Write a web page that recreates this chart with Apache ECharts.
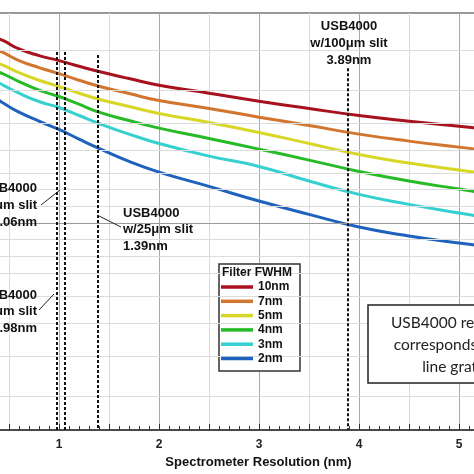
<!DOCTYPE html>
<html lang="en">
<head>
<meta charset="utf-8" />
<title>Filter FWHM vs spectrometer resolution</title>
<script src="https://cdn.jsdelivr.net/npm/echarts@6/dist/echarts.min.js"></script>
<style>
    html, body { margin: 0; padding: 0; background: #fff; overflow: hidden; width: 474px; height: 474px; }
    /* the plot is cropped on the left like the original figure */
    #main { position: absolute; left: -44px; top: 0; width: 560px; height: 474px; }
</style>
</head>
<body>
<div id="main"></div>
<script>
    // spectrometer resolution (nm)
    var resolution = [0.4, 0.45, 0.6, 0.8, 1.0, 1.2, 1.4, 1.7, 2.0, 2.5, 3.0, 3.5, 4.0, 4.5, 5.0, 5.5];

    // curves, one per filter FWHM (y in log units, 0 = heavy grid line)
    var fwhm10 = [0.553, 0.547, 0.523, 0.503, 0.488, 0.471, 0.455, 0.434, 0.414, 0.390, 0.366, 0.344, 0.323, 0.306, 0.291, 0.276];
    var fwhm7  = [0.517, 0.511, 0.488, 0.467, 0.449, 0.429, 0.411, 0.389, 0.368, 0.344, 0.318, 0.293, 0.267, 0.246, 0.228, 0.210];
    var fwhm5  = [0.479, 0.473, 0.452, 0.429, 0.410, 0.390, 0.372, 0.350, 0.329, 0.302, 0.272, 0.239, 0.206, 0.180, 0.159, 0.138];
    var fwhm4  = [0.453, 0.447, 0.425, 0.399, 0.380, 0.357, 0.333, 0.308, 0.285, 0.254, 0.222, 0.189, 0.155, 0.126, 0.102, 0.078];
    var fwhm3  = [0.420, 0.413, 0.390, 0.365, 0.347, 0.323, 0.299, 0.267, 0.239, 0.201, 0.170, 0.126, 0.086, 0.056, 0.030, 0.006];
    var fwhm2  = [0.369, 0.359, 0.333, 0.306, 0.281, 0.252, 0.224, 0.185, 0.153, 0.110, 0.066, 0.026, -0.012, -0.039, -0.060, -0.078];

    var names  = ['10nm', '7nm', '5nm', '4nm', '3nm', '2nm'];
    var curves = [fwhm10, fwhm7, fwhm5, fwhm4, fwhm3, fwhm2];
    var colors = ['#a8121e', '#d2752f', '#d8d626', '#27bb27', '#36d0d0', '#1f62bd'];

    // horizontal grid levels (mirrored around 0)
    var gridLevels = [0.046, 0.097, 0.155, 0.222, 0.301, 0.398, 0.523];

    // USB4000 slit resolutions: [x, top of dotted line]
    var slitLines = [[0.98, 0.514], [1.06, 0.514], [1.39, 0.505], [3.89, 0.465]];

    var yMin = -0.622, yMax = 0.631;

    var series = [];
    for (var i = 0; i < curves.length; i++) {
        var pts = [];
        for (var k = 0; k < resolution.length; k++) {
            pts.push([resolution[k], curves[i][k]]);
        }
        series.push({
            name: names[i],
            type: 'line',
            smooth: true,
            symbol: 'none',
            z: 4,
            lineStyle: { width: 3, color: colors[i] },
            itemStyle: { color: colors[i] },
            data: pts
        });
    }

    var gridMarks = [{ yAxis: 0, lineStyle: { color: '#9a9a9a', width: 1.2 } }];
    for (var g = 0; g < gridLevels.length; g++) {
        gridMarks.push({ yAxis: gridLevels[g] });
        gridMarks.push({ yAxis: -gridLevels[g] });
    }

    var slitMarks = [];
    for (var s = 0; s < slitLines.length; s++) {
        slitMarks.push([
            { coord: [slitLines[s][0], slitLines[s][1]] },
            { coord: [slitLines[s][0], yMin] }
        ]);
    }

    series.unshift({
        name: 'grid',
        type: 'line',
        data: [],
        z: 1,
        markLine: {
            silent: true,
            animation: false,
            symbol: 'none',
            label: { show: false },
            lineStyle: { type: 'solid', color: '#dcdcdc', width: 1 },
            data: gridMarks
        }
    });
    series.push({
        name: 'slits',
        type: 'line',
        data: [],
        z: 5,
        markLine: {
            silent: true,
            animation: false,
            symbol: 'none',
            label: { show: false },
            lineStyle: { type: [3, 2], color: '#111', width: 2 },
            data: slitMarks
        }
    });

    var arial = '"Liberation Sans", Arial, sans-serif';
    var bold13 = 'bold 13px ' + arial;
    var dx = 44; // div is shifted 44px to the left

    var myChart = echarts.init(document.getElementById('main'));

    var option = {
        animation: false,
        legend: {
            data: names,
            orient: 'vertical',
            left: 221 + dx,
            top: 281,
            icon: 'rect',
            itemWidth: 32,
            itemHeight: 3.5,
            itemGap: 2.3,
            padding: 0,
            z: 20,
            textStyle: { fontSize: 12, fontWeight: 'bold', color: '#111', fontFamily: arial }
        },
        grid: {
            left: 0,
            right: 7,
            top: 13,
            bottom: 44,
            show: true,
            borderColor: '#777',
            borderWidth: 1.5,
            containLabel: false
        },
        xAxis: {
            type: 'value',
            min: 0,
            max: 5.5,
            interval: 0.5,
            name: 'Spectrometer Resolution (nm)',
            nameLocation: 'middle',
            nameGap: 25,
            nameTextStyle: { fontSize: 13, fontWeight: 'bold', color: '#111', padding: [0, 0, 0, 49], fontFamily: arial },
            axisLine: { onZero: false, lineStyle: { color: '#333', width: 1.5 } },
            axisTick: { inside: true, length: 6, lineStyle: { color: '#333' } },
            minorTick: { show: true, splitNumber: 5, length: 4, lineStyle: { color: '#333' } },
            axisLabel: {
                margin: 9,
                fontSize: 12,
                fontWeight: 'bold',
                color: '#222',
                fontFamily: arial,
                formatter: function (v) { return v % 1 === 0 && v > 0 ? String(v) : ''; }
            },
            splitLine: { show: true, lineStyle: { color: ['#a8a8a8', '#dcdcdc'], width: 1 } }
        },
        yAxis: {
            type: 'value',
            min: yMin,
            max: yMax,
            axisLine: { show: false },
            axisTick: { show: false },
            axisLabel: { show: false },
            splitLine: { show: false }
        },
        graphic: [
            // legend frame and heading
            {
                type: 'rect', z: 3,
                shape: { x: 219 + dx, y: 264, width: 81, height: 107 },
                style: { fill: '#fff', stroke: '#333', lineWidth: 1.5 }
            },
            {
                type: 'text', x: 222 + dx, y: 267, z: 11,
                style: { text: 'Filter FWHM', align: 'left', verticalAlign: 'top', font: 'bold 12px ' + arial, fill: '#111' }
            },
            {
                type: 'text', x: 349 + dx, y: 17.5, z: 10,
                style: { text: 'USB4000\nw/100\u03bcm slit\n3.89nm', align: 'center', verticalAlign: 'top', lineHeight: 17, font: bold13, fill: '#111' }
            },
            {
                type: 'text', x: 123 + dx, y: 205, z: 10,
                style: { text: 'USB4000\nw/25\u03bcm slit\n1.39nm', align: 'left', verticalAlign: 'top', lineHeight: 16.5, font: bold13, fill: '#111' }
            },
            {
                type: 'text', x: 37 + dx, y: 179.5, z: 10,
                style: { text: 'USB4000\nw/10\u03bcm slit\n1.06nm', align: 'right', verticalAlign: 'top', lineHeight: 17, font: bold13, fill: '#111' }
            },
            {
                type: 'text', x: 37 + dx, y: 287, z: 10,
                style: { text: 'USB4000\nw/5\u03bcm slit\n0.98nm', align: 'right', verticalAlign: 'top', lineHeight: 16.5, font: bold13, fill: '#111' }
            },
            { type: 'line', z: 10, shape: { x1: 97 + dx, y1: 215, x2: 121 + dx, y2: 227 }, style: { stroke: '#222', lineWidth: 1 } },
            { type: 'line', z: 10, shape: { x1: 41 + dx, y1: 205, x2: 60 + dx, y2: 190 }, style: { stroke: '#222', lineWidth: 1 } },
            { type: 'line', z: 10, shape: { x1: 39 + dx, y1: 310, x2: 54 + dx, y2: 294 }, style: { stroke: '#222', lineWidth: 1 } },
            {
                type: 'rect', z: 10,
                shape: { x: 368 + dx, y: 305, width: 200, height: 78 },
                style: { fill: '#fff', stroke: '#222', lineWidth: 1.5 }
            },
            {
                type: 'text', x: 460 + dx, y: 312, z: 11,
                style: { text: 'USB4000 resolution\ncorresponds to 600\nline grating', align: 'center', verticalAlign: 'top', lineHeight: 22, font: '15.5px Lato, "Open Sans", sans-serif', fill: '#222' }
            }
        ],
        series: series
    };

    myChart.setOption(option);
</script>
</body>
</html>
